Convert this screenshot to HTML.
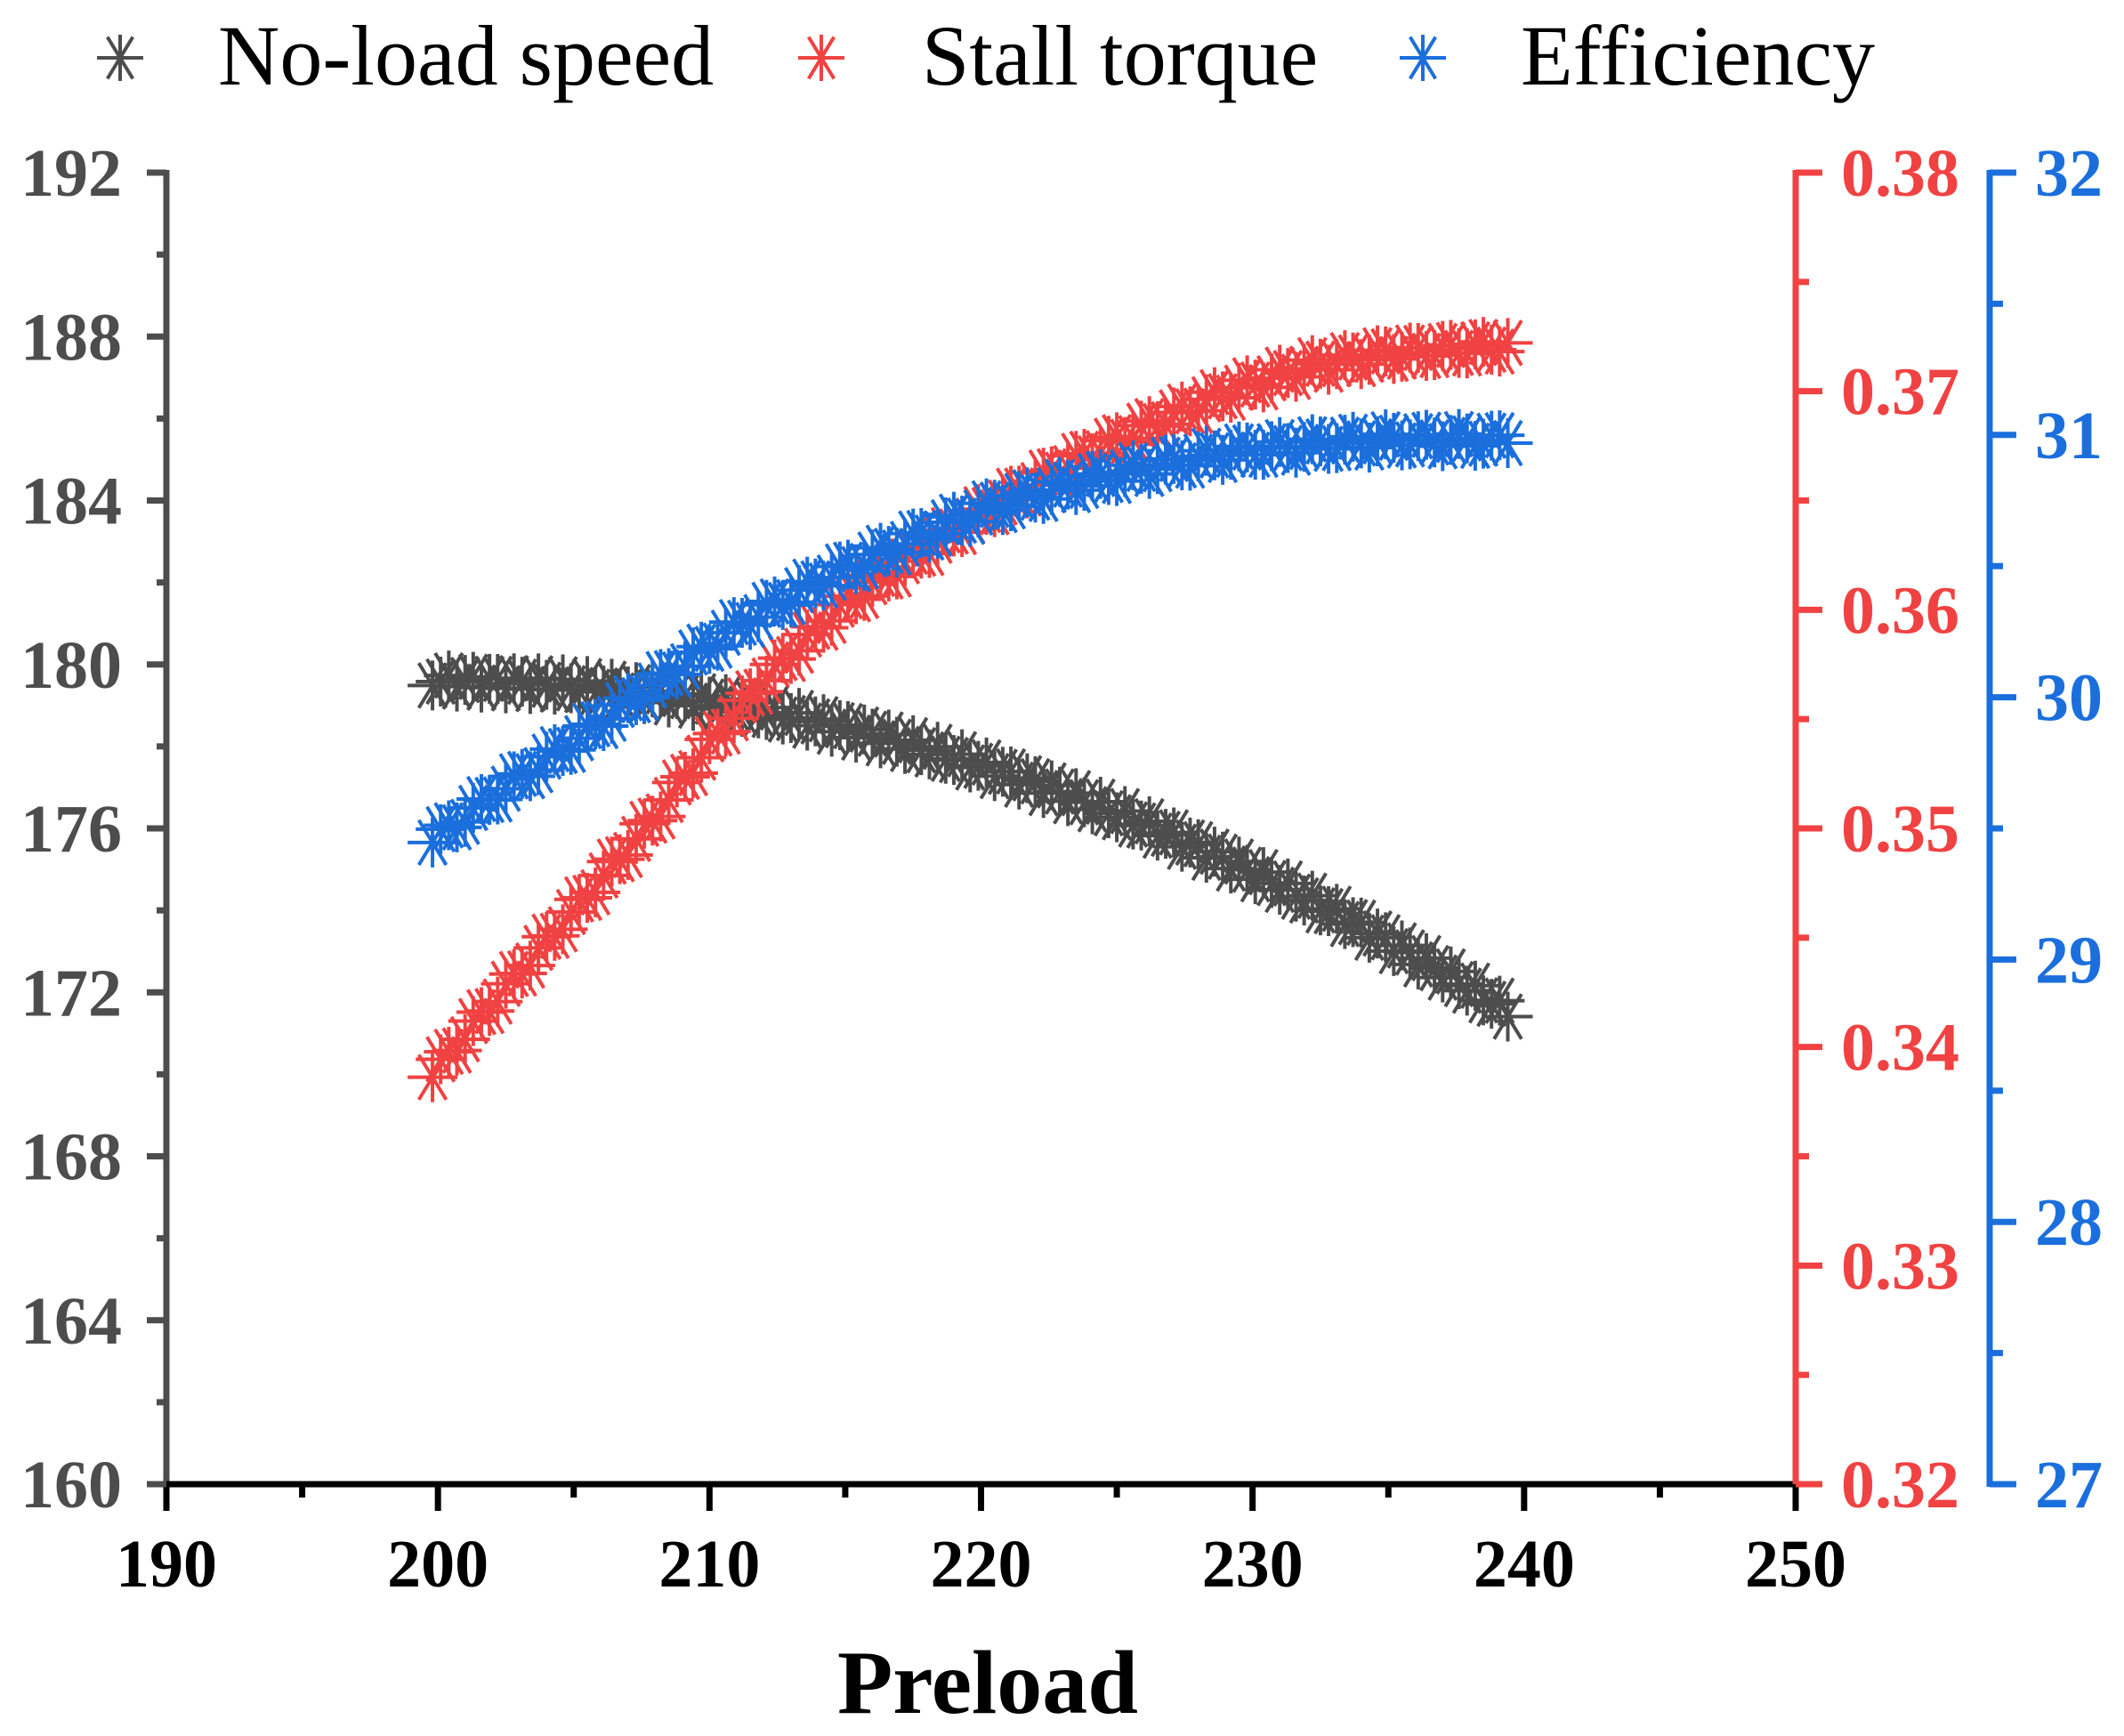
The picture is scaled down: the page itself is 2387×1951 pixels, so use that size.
<!DOCTYPE html>
<html><head><meta charset="utf-8"><style>html,body{margin:0;padding:0;background:#fff}svg{display:block}</style></head>
<body>
<svg id="c" width="2387" height="1951" viewBox="0 0 2387 1951" xmlns="http://www.w3.org/2000/svg" font-family="Liberation Serif, serif">
<g id="legend" font-size="96">
<text x="245" y="95" fill="#000">No-load speed</text>
<text x="1036" y="95" fill="#000">Stall torque</text>
<text x="1709" y="95" fill="#000">Efficiency</text>
</g>
<g id="plot"></g>
<g id="axes"></g>
<text x="1110" y="1925" font-size="102" font-weight="bold" text-anchor="middle" fill="#000">Preload</text>
</svg>
<script>
var NS="http://www.w3.org/2000/svg";
function el(p,t,a,txt){var e=document.createElementNS(NS,t);for(var k in a)e.setAttribute(k,a[k]);if(txt!==undefined)e.textContent=txt;p.appendChild(e);return e;}
var X0=187,X1=2018,Y0=1668,Y1=194;
function xp(v){return X0+(v-190)/60*(X1-X0);}
function yl(v){return Y0-(v-160)/32*(Y0-Y1);}
function yr(v){return Y0-(v-0.32)/0.06*(Y0-Y1);}
function yb(v){return Y0-(v-27)/5*(Y0-Y1);}
var GREY="#4d4d4d",RED="#f04242",BLUE="#1b6fdc";
var plot=document.getElementById('plot'),axes=document.getElementById('axes'),leg=document.getElementById('legend');
function star(g,x,y,r,c,w){
 var d="M"+(x-r)+" "+y+"h"+(2*r)+"M"+x+" "+(y-r)+"v"+(2*r);
 var dx=r*0.55,dy=r*0.9;
 d+="M"+(x-dx)+" "+(y-dy)+"L"+(x+dx)+" "+(y+dy)+"M"+(x-dx)+" "+(y+dy)+"L"+(x+dx)+" "+(y-dy);
 el(g,"path",{d:d,stroke:c,"stroke-width":w,fill:"none"});
}
function interp(pts,p){for(var i=0;i<pts.length-1;i++){if(p<=pts[i+1][0]){var a=pts[i],b=pts[i+1];var t=(p-a[0])/(b[0]-a[0]);return a[1]+(b[1]-a[1])*t;}}return pts[pts.length-1][1];}
var redPts=[[199.5,0.3383],[202,0.3420],[205,0.3462],[208,0.3505],[210,0.3538],[212,0.3568],[215,0.3603],[218,0.3628],[220,0.3644],[223,0.3665],[226,0.3683],[229,0.3699],[232,0.3711],[235,0.3717],[239.5,0.3721]];
var bluePts=[[199.5,29.43],[202,29.62],[205,29.83],[208,30.05],[211,30.27],[214,30.44],[217,30.58],[220,30.71],[223,30.80],[226,30.87],[229,30.93],[232,30.96],[235,30.98],[239.5,30.98]];
function grey(p){var d=p-200;return 179.6-0.0052*Math.max(d,0)*Math.max(d,0);}
var gg=el(plot,"g",{}),gr=el(plot,"g",{}),gb=el(plot,"g",{});
for(var p=199.8;p<=239.7;p+=0.3){var j=Math.sin(p*7.3)*7;star(gg,xp(p),yl(grey(p))+j,28,GREY,4);}
for(var p=199.8;p<=239.7;p+=0.3){var j=Math.cos(p*5.1)*7;star(gr,xp(p),yr(interp(redPts,p))+j,28,RED,4);}
for(var p=199.8;p<=239.7;p+=0.3){var j=Math.sin(p*4.7)*7;star(gb,xp(p),yb(interp(bluePts,p))+j,28,BLUE,4);}
var LW=7;
el(axes,"line",{x1:X0,y1:Y1-3,x2:X0,y2:Y0,stroke:"#4d4d4d","stroke-width":LW});
el(axes,"line",{x1:X0-3,y1:Y0,x2:X1+3,y2:Y0,stroke:"#000","stroke-width":LW});
var XR=2018,XB=2236;
el(axes,"line",{x1:XR,y1:Y1-3,x2:XR,y2:Y0+3,stroke:RED,"stroke-width":LW});
el(axes,"line",{x1:XB,y1:Y1-3,x2:XB,y2:Y0+3,stroke:BLUE,"stroke-width":LW});
for(var v=190;v<=250;v+=5){var x=xp(v);var maj=(v%10==0);el(axes,"line",{x1:x,y1:Y0,x2:x,y2:Y0+(maj?30:15),stroke:"#000","stroke-width":LW});
 if(maj)el(axes,"text",{x:x,y:1783,"font-size":76,"font-weight":"bold","text-anchor":"middle",fill:"#000"},String(v));}
for(var v=160;v<=192;v+=2){var y=yl(v);var maj=(v%4==0);el(axes,"line",{x1:X0,y1:y,x2:X0-(maj?22:11),y2:y,stroke:"#4d4d4d","stroke-width":LW});
 if(maj)el(axes,"text",{x:137,y:y+26,"font-size":76,"font-weight":"bold","text-anchor":"end",fill:"#4d4d4d"},String(v));}
for(var i=0;i<=12;i++){var v=0.32+i*0.005;var y=yr(v);var maj=(i%2==0);el(axes,"line",{x1:XR,y1:y,x2:XR+(maj?30:15),y2:y,stroke:RED,"stroke-width":LW});
 if(maj)el(axes,"text",{x:2069,y:y+26,"font-size":76,"font-weight":"bold",fill:RED},v.toFixed(2));}
for(var i=0;i<=10;i++){var v=27+i*0.5;var y=yb(v);var maj=(i%2==0);el(axes,"line",{x1:XB,y1:y,x2:XB+(maj?30:15),y2:y,stroke:BLUE,"stroke-width":LW});
 if(maj)el(axes,"text",{x:2287,y:y+26,"font-size":76,"font-weight":"bold",fill:BLUE},String(v));}
star(leg,135,65,26,GREY,4);star(leg,923,65,26,RED,4);star(leg,1599,65,26,BLUE,4);
</script>
</body></html>
